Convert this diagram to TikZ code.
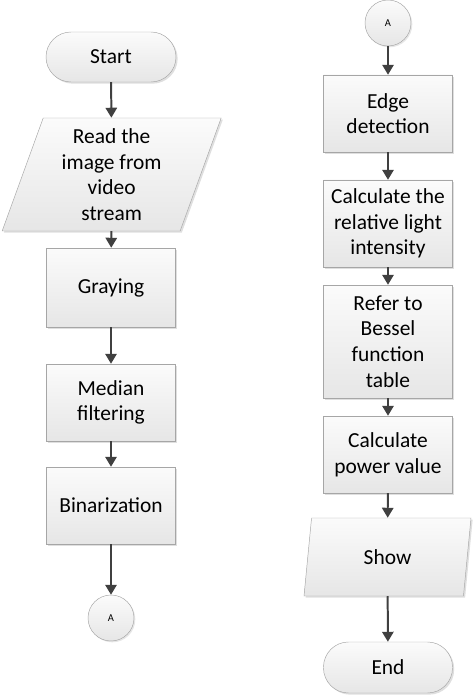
\documentclass[tikz,border=0pt]{standalone}
\usepackage{fontspec}
\setmainfont{Carlito}
\usepackage{xcolor}
\usetikzlibrary{arrows.meta, shapes.geometric, shadows}

\definecolor{boxborder}{HTML}{A6A6A6}
\definecolor{boxtop}{HTML}{FBFBFB}
\definecolor{boxbottom}{HTML}{E6E6E6}
\definecolor{arrowgray}{HTML}{404040}

\begin{document}
\begin{tikzpicture}[
    >={Triangle[length=0.3cm, width=0.34cm]},
    font=\fontsize{18.3}{21.9}\selectfont,
    procbox/.style={rectangle, draw=boxborder, top color=boxtop, bottom color=boxbottom, align=center, inner sep=2pt, minimum width=3.87cm, drop shadow={opacity=0.25, shadow xshift=0.05cm, shadow yshift=-0.05cm}},
    termbox/.style={procbox, rounded corners=0.75cm},
    iobox/.style={trapezium, trapezium left angle=66.5, trapezium right angle=113.5, trapezium stretches body, draw=boxborder, top color=boxtop, bottom color=boxbottom, align=center, inner sep=1pt, drop shadow={opacity=0.25, shadow xshift=0.05cm, shadow yshift=-0.05cm}},
    connector/.style={circle, draw=boxborder, top color=boxtop, bottom color=boxbottom, minimum size=1.38cm, inner sep=0pt, font=\fontsize{9}{10}\selectfont, drop shadow={opacity=0.2, shadow xshift=0.04cm, shadow yshift=-0.04cm}},
    line/.style={draw=arrowgray, line width=1.7pt, ->}
]
    \useasboundingbox (0,0) rectangle (14.22,-20.88);

    % Left column
    \node [termbox, minimum height=1.5cm, minimum width=3.9cm] (start) at (3.33, -1.71) {Start};
    \node [iobox, minimum height=3.39cm, minimum width=6.57cm] (read) at (3.35, -5.235) {Read the\\image from\\video\\stream};
    \node [procbox, minimum height=2.37cm] (gray) at (3.33, -8.625) {Graying};
    \node [procbox, minimum height=2.31cm] (median) at (3.33, -12.075) {Median\\filtering};
    \node [procbox, minimum height=2.31cm] (binar) at (3.33, -15.165) {Binarization};
    \node [connector] (conA) at (3.33, -18.54) {A};

    % Right column
    \node [connector] (conB) at (11.64, -0.69) {A};
    \node [procbox, minimum height=2.31cm] (edge) at (11.64, -3.405) {Edge\\detection};
    \node [procbox, minimum height=2.61cm] (light) at (11.64, -6.705) {Calculate the\\relative light\\intensity};
    \node [procbox, minimum height=3.39cm] (bessel) at (11.64, -10.245) {Refer to\\Bessel\\function\\table};
    \node [procbox, minimum height=2.31cm] (power) at (11.64, -13.635) {Calculate\\power value};
    \node [iobox, minimum height=2.34cm, minimum width=5.01cm] (show) at (11.625, -16.71) {Show};
    \node [termbox, minimum height=1.53cm] (end) at (11.64, -20.025) {End};

    \draw [line] (start) -- (read);
    \draw [line] (read) -- (gray);
    \draw [line] (gray) -- (median);
    \draw [line] (median) -- (binar);
    \draw [line] (binar) -- (conA);

    \draw [line] (conB) -- (edge);
    \draw [line] (edge) -- (light);
    \draw [line] (light) -- (bessel);
    \draw [line] (bessel) -- (power);
    \draw [line] (power) -- (show);
    \draw [line] (show) -- (end);

\end{tikzpicture}
\end{document}
